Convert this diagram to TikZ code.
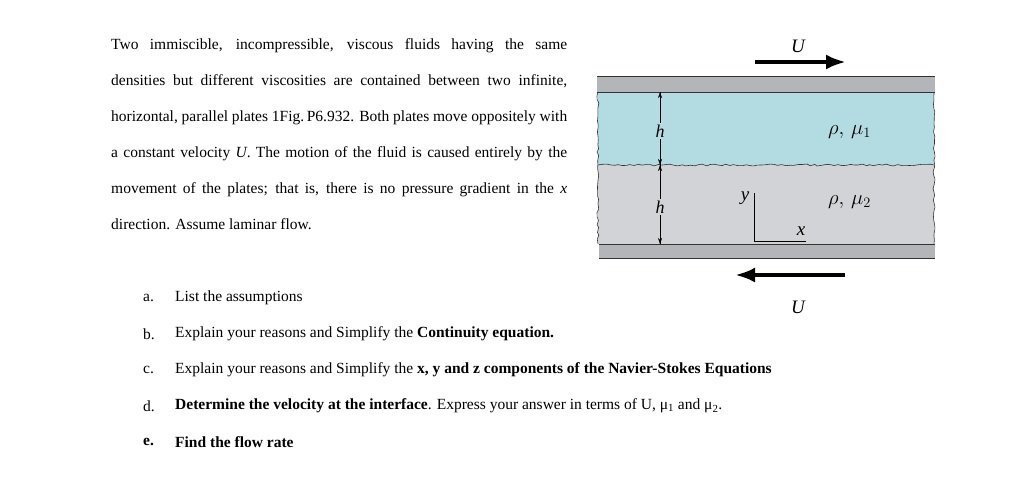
\documentclass[tikz,border=0pt]{standalone}
\usepackage{fontspec}
\setmainfont{Liberation Serif}
\usetikzlibrary{arrows.meta,decorations.pathmorphing}
\definecolor{fluidA}{RGB}{178,219,226}
\definecolor{fluidB}{RGB}{210,211,214}
\definecolor{plateC}{RGB}{180,181,184}
\begin{document}
\begin{tikzpicture}[x=1pt,y=-1pt,
  txt/.style={anchor=west,inner sep=0pt,font=\fontsize{15.5}{18}\selectfont},
  dim/.style={-{Stealth[length=6pt,width=4pt]},line width=0.5pt},
  big/.style={-{Latex[length=20pt,width=15pt]},line width=4pt},
  lab/.style={font=\fontsize{17}{19}\selectfont\itshape,inner sep=0pt},
  wig/.style={decorate,decoration={random steps,segment length=4pt,amplitude=1pt},draw=black!80,line width=0.6pt}]
\useasboundingbox (0,0) rectangle (1024,477);
% paragraph
\node[anchor=north west,inner sep=0pt,text width=456pt,align=justify,font=\fontsize{15.5}{36}\selectfont] (para) at (111,38)
{\hyphenpenalty=10000 Two immiscible, incompressible, viscous fluids having the same\linebreak densities but different viscosities are contained between two infinite,\linebreak horizontal, parallel plates 1Fig.\,P6.932. Both plates move oppositely with\linebreak a constant velocity \textit{U}. The motion of the fluid is caused entirely by the\linebreak movement of the plates; that is, there is no pressure gradient in the \textit{x}\linebreak direction. Assume laminar flow.\par};
% list
\node[txt] (la) at (143,298) {a.}; \node[txt] (ta) at (175,298) {List the assumptions};
\node[txt] (lb) at (143,334) {b.}; \node[txt] (tb) at (175,334) {Explain your reasons and Simplify the \textbf{Continuity equation.}};
\node[txt] (lc) at (143,370) {c.}; \node[txt] (tc) at (175,370) {Explain your reasons and Simplify the \textbf{x, y and z components of the Navier-Stokes Equations}};
\node[txt] (ld) at (143,406) {d.}; \node[txt] (td) at (175,406) {\textbf{Determine the velocity at the interface}. Express your answer in terms of U, μ\textsubscript{1} and μ\textsubscript{2}.};
\node[txt] (le) at (143,442) {\textbf{e.}}; \node[txt] (te) at (175,442) {\textbf{Find the flow rate}};
% fluids
\fill[fluidA] (598,92) rectangle (934,165);
\fill[fluidB] (598,165) rectangle (934,244);
\draw[wig] (598,165) -- (934,165);
\draw[wig] (598,92) -- (598,244);
\draw[wig] (934,92) -- (934,244);
\fill[plateC] (597,76) rectangle (935,92);
\fill[plateC] (599,244) rectangle (935,258);
\draw[draw=black!80,line width=0.6pt] (597,76) -- (935,76) (597,92) -- (935,92) (599,244)--(935,244) (599,258)--(935,258);
% dims
\coordinate (t) at (660,92); \coordinate (m) at (660,165); \coordinate (b) at (660,244);
\draw[dim] (m) -- (t); \draw[dim] (t) -- (m);
\draw[dim] (m) -- (b); \draw[dim] (b) -- (m);
\node[lab,fill=fluidA,inner sep=2pt,font=\fontsize{18}{20}\selectfont\itshape] (h1) at (660,131) {h};
\node[lab,fill=fluidB,inner sep=2pt,font=\fontsize{18}{20}\selectfont\itshape] (h2) at (660,207) {h};
\node[lab,anchor=west,font=\fontsize{22}{24}\selectfont] (m1) at (828,132) {$\rho,\,\mu_1$};
\node[lab,anchor=west,font=\fontsize{22}{24}\selectfont] (m2) at (828,202) {$\rho,\,\mu_2$};
% axes
\coordinate (o) at (754,241);
\coordinate (ye) at (754,193); \coordinate (xe) at (806,241);
\draw[line width=0.6pt] (ye) -- (o) -- (xe);
\node[lab,font=\fontsize{19}{21}\selectfont\itshape] (yl) at (745,198) {y};
\node[lab,font=\fontsize{19}{21}\selectfont\itshape] (xl) at (801,231) {x};
% U arrows
\coordinate (ua) at (755,62); \coordinate (ub) at (846,62);
\draw[big] (ua) -- (ub);
\node[lab,font=\fontsize{19}{21}\selectfont\itshape] (u1) at (798,46) {U};
\coordinate (la1) at (845,275); \coordinate (lb1) at (735,275);
\draw[big] (la1) -- (lb1);
\node[lab,font=\fontsize{19}{21}\selectfont\itshape] (u2) at (798,307) {U};
\end{tikzpicture}
\end{document}
